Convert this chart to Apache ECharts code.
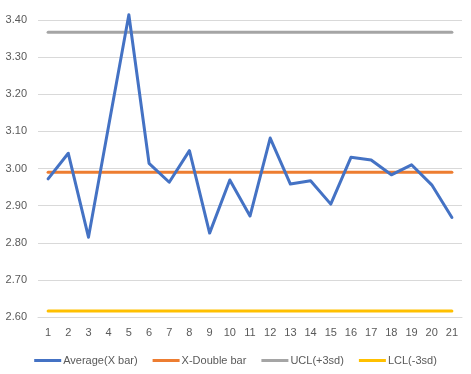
<!DOCTYPE html>
<html>
<head>
<meta charset="utf-8">
<script src="https://cdn.jsdelivr.net/npm/echarts@6/dist/echarts.min.js"></script>
<style>html,body{margin:0;padding:0;background:#fff;}#c{width:471px;height:374px;}</style>
</head>
<body>
<div id="c"></div>
<script>
var categories = ['1','2','3','4','5','6','7','8','9','10','11','12','13','14','15','16','17','18','19','20','21'];
var averageXbar = [2.972, 3.041, 2.815, 3.115, 3.414, 3.014, 2.963, 3.048, 2.826, 2.969, 2.872, 3.082, 2.958, 2.967, 2.904, 3.030, 3.023, 2.983, 3.010, 2.956, 2.868];
var xDoubleBarValue = 2.990;
var uclValue = 3.367;
var lclValue = 2.616;
var seriesNames = ['Average(X bar)', 'X-Double bar', 'UCL(+3sd)', 'LCL(-3sd)'];

var xDoubleBar = categories.map(function(){ return xDoubleBarValue; });
var ucl = categories.map(function(){ return uclValue; });
var lcl = categories.map(function(){ return lclValue; });

var colors = ['#4472C4', '#ED7D31', '#A5A5A5', '#FFC000'];
var font = 'Liberation Sans';

function lineSeries(name, data, color, z) {
  return {
    name: name, type: 'line', data: data, symbol: 'none', z: z, clip: false,
    lineStyle: { color: color, width: 3, cap: 'round', join: 'round' },
    itemStyle: { color: color },
    animation: false
  };
}

var chart = echarts.init(document.getElementById('c'));
chart.setOption({
  animation: false,
  grid: { left: 38, right: 9, top: 20, bottom: 57 },
  legend: {
    bottom: 3, left: 'center',
    icon: 'rect', itemWidth: 27, itemHeight: 3, itemGap: 15,
    textStyle: { color: '#595959', fontSize: 11, fontFamily: font, padding: [0,0,0,-3] },
    data: seriesNames
  },
  xAxis: {
    type: 'category', data: categories, boundaryGap: true,
    axisLine: { lineStyle: { color: '#D9D9D9', width: 1 } },
    axisTick: { show: false },
    axisLabel: { color: '#595959', fontSize: 11, fontFamily: font, margin: 10 }
  },
  yAxis: {
    type: 'value', min: 2.6, max: 3.4, interval: 0.1,
    axisLine: { show: false }, axisTick: { show: false },
    splitLine: { lineStyle: { color: '#D9D9D9', width: 1 } },
    axisLabel: { color: '#595959', fontSize: 11, fontFamily: font, margin: 11,
      formatter: function(v){ return v.toFixed(2); } }
  },
  series: [
    lineSeries(seriesNames[0], averageXbar, colors[0], 5),
    lineSeries(seriesNames[1], xDoubleBar, colors[1], 4),
    lineSeries(seriesNames[2], ucl, colors[2], 3),
    lineSeries(seriesNames[3], lcl, colors[3], 2)
  ]
});
</script>
</body>
</html>
